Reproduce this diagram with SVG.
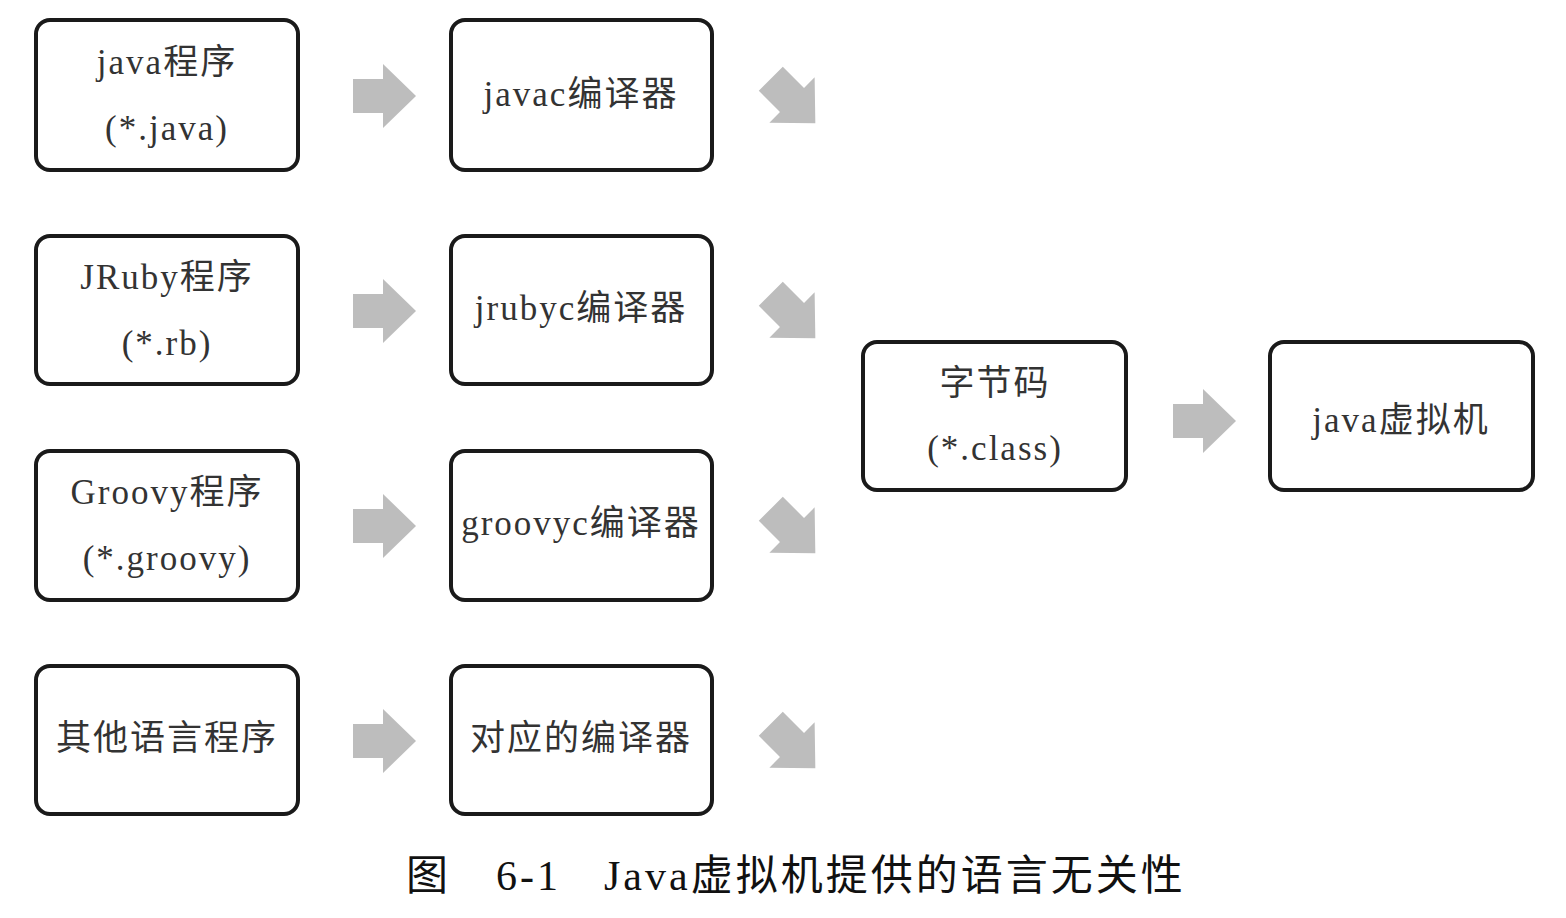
<svg xmlns="http://www.w3.org/2000/svg" width="1566" height="918" viewBox="0 0 1566 918">
<style>
.b{fill:#fff;stroke:#1a1a1a;stroke-width:4}
.t{font-family:"Liberation Serif","Noto Sans CJK SC",serif;font-size:35px;letter-spacing:2px;fill:#333;text-anchor:middle}
.a{fill:#bdbdbd}
.c{font-family:"Liberation Serif","Noto Sans CJK SC",serif;font-size:42px;letter-spacing:3px;fill:#111}
</style>
<defs>
<path id="ar" d="M-30,-17 H0 V-32 L33,0 L0,32 V17 H-30 Z"/>
<clipPath id="cl"><rect x="700" y="0" width="118" height="918"/></clipPath>
</defs>
<rect width="1566" height="918" fill="#fff"/>
<g id="connectors">
<use href="#ar" class="a" transform="translate(383,96)"/>
<use href="#ar" class="a" transform="translate(383,311)"/>
<use href="#ar" class="a" transform="translate(383,526)"/>
<use href="#ar" class="a" transform="translate(383,741)"/>
<g clip-path="url(#cl)">
<use href="#ar" class="a" transform="translate(792,100) rotate(45)"/>
<use href="#ar" class="a" transform="translate(792,315) rotate(45)"/>
<use href="#ar" class="a" transform="translate(792,530) rotate(45)"/>
<use href="#ar" class="a" transform="translate(792,745) rotate(45)"/>
</g>
<use href="#ar" class="a" transform="translate(1203,421)"/>
</g>
<g id="n1"><rect class="b" x="36" y="20" width="262" height="150" rx="14"/><text class="t" x="167" y="74">java程序</text><text class="t" x="167" y="140">(*.java)</text></g>
<g id="n2"><rect class="b" x="36" y="236" width="262" height="148" rx="14"/><text class="t" x="167" y="289">JRuby程序</text><text class="t" x="167" y="355">(*.rb)</text></g>
<g id="n3"><rect class="b" x="36" y="451" width="262" height="149" rx="14"/><text class="t" x="167" y="504">Groovy程序</text><text class="t" x="167" y="570">(*.groovy)</text></g>
<g id="n4"><rect class="b" x="36" y="666" width="262" height="148" rx="14"/><text class="t" x="167" y="750">其他语言程序</text></g>
<g id="c1"><rect class="b" x="451" y="20" width="261" height="150" rx="14"/><text class="t" x="581" y="106">javac编译器</text></g>
<g id="c2"><rect class="b" x="451" y="236" width="261" height="148" rx="14"/><text class="t" x="581" y="320">jrubyc编译器</text></g>
<g id="c3"><rect class="b" x="451" y="451" width="261" height="149" rx="14"/><text class="t" x="581" y="535">groovyc编译器</text></g>
<g id="c4"><rect class="b" x="451" y="666" width="261" height="148" rx="14"/><text class="t" x="581" y="750">对应的编译器</text></g>
<g id="bc"><rect class="b" x="863" y="342" width="263" height="148" rx="14"/><text class="t" x="995" y="395">字节码</text><text class="t" x="995" y="460">(*.class)</text></g>
<g id="jvm"><rect class="b" x="1270" y="342" width="263" height="148" rx="14"/><text class="t" x="1401" y="432">java虚拟机</text></g>
<text class="c" x="406" y="890">图</text>
<text class="c" x="496" y="890">6-1</text>
<text class="c" x="604" y="890">Java虚拟机提供的语言无关性</text>
</svg>
